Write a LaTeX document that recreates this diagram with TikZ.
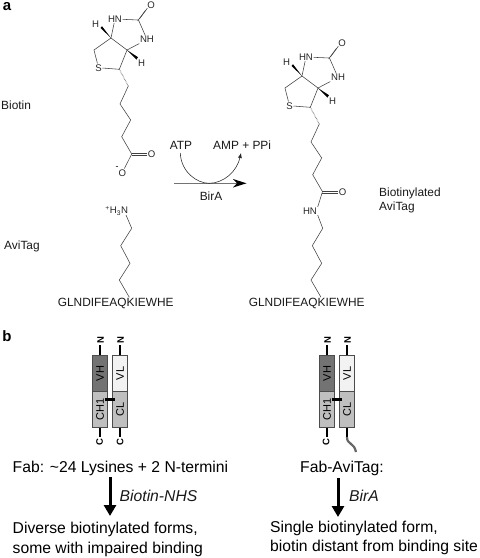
\documentclass[tikz,border=0pt]{standalone}
\usepackage{fontspec}
\setmainfont{Liberation Sans}
\usetikzlibrary{arrows.meta}
\tikzset{
 bond/.style={draw=black!75,line width=0.55pt},
 atom/.style={inner sep=0.6pt,font=\fontsize{9.6}{10}\selectfont,text=black!85},
 lbl/.style={inner sep=0,font=\fontsize{11.9}{14}\selectfont,text=black!90},
 big/.style={inner sep=0,font=\fontsize{15.7}{20}\selectfont,anchor=west,align=left},
 dom/.style={draw=black!70,line width=0.9pt,minimum width=15.4pt,inner sep=0},
 domtext/.style={rotate=90,inner sep=0,font=\fontsize{11}{11}\selectfont},
 stub/.style={line width=2.2pt,black},
 term/.style={inner sep=0,rotate=90,font=\bfseries\fontsize{9.5}{9}\selectfont},
 wedge/.style={fill=black,draw=none},
 hashb/.style={draw=black!55,line width=1pt,dash pattern=on 0.5pt off 0.9pt},
 bigarrow/.style={-{Triangle[length=11pt,width=12pt]},line width=3pt,black},
 panel/.style={inner sep=0,font=\bfseries\fontsize{15}{16}\selectfont},
 emlbl/.style={inner sep=0,anchor=west,font=\itshape\fontsize{15.7}{18}\selectfont,text=black!90},
}
\newcommand{\biotinring}[2]{%
\begin{scope}[shift={(#1,#2)}]
 \node[atom] (O1) at (151,5) {O};
 \node[atom] (HN) at (115,19) {HN};
 \node[atom] (NH) at (147,39.5) {NH};
 \node[atom] (S) at (98.5,67.7) {S};
 \node[atom] (H1) at (95.5,24.5) {H};
 \node[atom] (H2) at (141.7,63.5) {H};
 \coordinate (CO) at (138.5,20);
 \coordinate (J1) at (111,38);
 \coordinate (J2) at (127,50);
 \coordinate (CH) at (94,50);
 \coordinate (C3) at (119.3,69.3);
 \coordinate (C4) at (128.3,86);
 \coordinate (C5) at (120,104);
 \coordinate (C6) at (130.7,120);
 \coordinate (C7) at (121.7,136.7);
 \coordinate (C8) at (131.7,154);
 \draw[bond] (HN) -- (CO) -- (NH) -- (J2) -- (J1) -- (HN);
 \draw[bond] ([xshift=-0.9pt,yshift=-1pt]CO) -- ([xshift=-0.9pt,yshift=-1pt]O1.south west);
 \draw[bond] ([xshift=0.9pt,yshift=1pt]CO) -- ([xshift=0.9pt,yshift=1pt]O1.south west);
 \draw[bond] (J1) -- (CH) -- (S) -- (C3) -- (J2);
 \fill[wedge] (J1) -- (100.5,28) -- (102,26.2) -- cycle;
 \fill[wedge] (J2) -- (136.5,59.5) -- (138,57.2) -- cycle;
 \draw[hashb] (C3) -- (C4);
 \draw[bond] (C4) -- (C5) -- (C6) -- (C7) -- (C8);
\end{scope}}
\begin{document}
\begin{tikzpicture}[x=1pt,y=-1pt]
\useasboundingbox (0,0) rectangle (480,558);
\node[panel] (pa) at (7,7) {a};
\node[panel] (pb) at (7,336) {b};
\node[lbl,anchor=west] (biotin) at (1,105.5) {Biotin};
\node[lbl,anchor=west] (avi) at (4,246) {AviTag};
\node[lbl,anchor=west] (bav1) at (379,193) {Biotinylated};
\node[lbl,anchor=west] (bav2) at (379,207.5) {AviTag};
% left biotin
\biotinring{0}{0}
\node[atom] (OL) at (151.7,154.5) {O};
\node[atom] (OM) at (122.3,172.7) {O};
\node[inner sep=0,font=\fontsize{9}{9}\selectfont] (minus) at (117,168) {-};
\draw[bond] (131.7,153) -- (OL.west |- 0,153);
\draw[bond] (131.7,155) -- (OL.west |- 0,155);
\draw[bond] (131.7,154) -- (OM);
% left lysine
\node[atom] (NH3) at (116.7,210.7) {\textsuperscript{+}H\textsubscript{3}N};
\node[lbl] (seqL) at (115.7,303.3) {GLNDIFEAQKIEWHE};
\coordinate (a1) at (131.7,228.3);
\coordinate (a2) at (120.7,245.7);
\coordinate (a3) at (130,263.3);
\coordinate (a4) at (119.3,280);
\draw[bond] (126,215) -- (a1) -- (a2) -- (a3) -- (a4) -- (129.3,297.3);
% reaction
\node[lbl] (atp) at (181,145) {ATP};
\node[lbl,anchor=west] (amp) at (213,145) {AMP + PPi};
\node[lbl] (bira) at (211,196) {BirA};
\coordinate (rs) at (174,183.3);
\coordinate (re) at (246.5,183.3);
\draw[draw=black!55,line width=1.1pt] (rs) -- (238,183.3);
\fill (re) -- (233,179) -- (237,183.3) -- (233,187.5) -- cycle;
\draw[black!85,line width=0.55pt,-{Latex[length=5pt,width=4pt]}] (180.3,153) .. controls (181,172) and (197,183.3) .. (209,183.3) .. controls (224,183.3) and (237,171) .. (241,153);
% right biotin
\biotinring{191}{38}
\node[atom] (OR) at (342.7,192.3) {O};
\node[atom] (HNR) at (310,211) {HN};
\draw[bond] (322.3,191.3) -- (OR.west |- 0,191.3);
\draw[bond] (322.3,193.3) -- (OR.west |- 0,193.3);
\draw[bond] (322.3,192.3) -- (HNR.north east);
\node[lbl] (seqR) at (306.7,303.3) {GLNDIFEAQKIEWHE};
\draw[bond] (HNR.south east) -- (322.7,228.3) -- (312.3,245.7) -- (321.7,263.3) -- (311,280) -- (321,297.3);
% Fab left
\node[dom,fill=black!55,minimum height=35.6pt] (vh) at (100,373.5) {};
\node[domtext] (vht) at (vh) {VH};
\node[dom,fill=black!5,minimum height=35.6pt] (vl) at (120,373.5) {};
\node[domtext] (vlt) at (vl) {VL};
\node[dom,fill=black!25,minimum height=36pt] (ch) at (100,409.3) {};
\node[domtext] (cht) at (ch) {CH1};
\node[dom,fill=black!25,minimum height=36pt] (cl) at (120,409.3) {};
\node[domtext] (clt) at (cl) {CL};
\draw[line width=2.6pt] (105,399.5) -- (115,399.5);
\node[term] (n1) at (100.5,340.5) {N};
\node[term] (n2) at (120.5,340.5) {N};
\node[term] (c1) at (99.5,442) {C};
\node[term] (c2) at (120,442) {C};
\draw[stub] (vh.north) -- ++(0,-10);
\draw[stub] (vl.north) -- ++(0,-10);
\draw[stub] (ch.south) -- ++(0,9);
\draw[stub] (cl.south) -- ++(0,9);
% Fab right
\node[dom,fill=black!55,minimum height=35.6pt] (vh2) at (327,373.5) {};
\node[domtext] (vht2) at (vh2) {VH};
\node[dom,fill=black!5,minimum height=35.6pt] (vl2) at (347,373.5) {};
\node[domtext] (vlt2) at (vl2) {VL};
\node[dom,fill=black!25,minimum height=36pt] (ch2) at (327,409.3) {};
\node[domtext] (cht2) at (ch2) {CH1};
\node[dom,fill=black!25,minimum height=36pt] (cl2) at (347,409.3) {};
\node[domtext] (clt2) at (cl2) {CL};
\draw[line width=2.6pt] (331.7,399.5) -- (341.7,399.5);
\node[term] (n3) at (327.5,340.5) {N};
\node[term] (n4) at (347.5,340.5) {N};
\node[term] (c3) at (326,442) {C};
\draw[stub] (vh2.north) -- ++(0,-10);
\draw[stub] (vl2.north) -- ++(0,-10);
\draw[stub] (ch2.south) -- ++(0,9);
\draw[stub] (cl2.south) -- ++(0,10);
\draw[line width=2.2pt,black!60] (347,437) .. controls (347,445) and (354,442) .. (356,452);
% bottom text
\node[big] (t1) at (12.5,468) {Fab: \char`\~24 Lysines + 2 N-termini};
\node[big] (t2) at (300,468) {Fab-AviTag:};
\node[big] (t3a) at (12.5,529) {Diverse biotinylated forms,};
\node[big] (t3b) at (12.5,549) {some with impaired binding};
\node[big] (t4a) at (270,528) {Single biotinylated form,};
\node[big] (t4b) at (270,547.5) {biotin distant from binding site};
\coordinate (s1) at (110,477);
\coordinate (e1) at (110,516);
\coordinate (s2) at (338,478);
\coordinate (e2) at (338,517);
\draw[bigarrow] (s1) -- (e1);
\draw[bigarrow] (s2) -- (e2);
\node[emlbl] (bn) at (119.5,496) {Biotin-NHS};
\node[emlbl] (br) at (349,496) {BirA};
\end{tikzpicture}
\end{document}
